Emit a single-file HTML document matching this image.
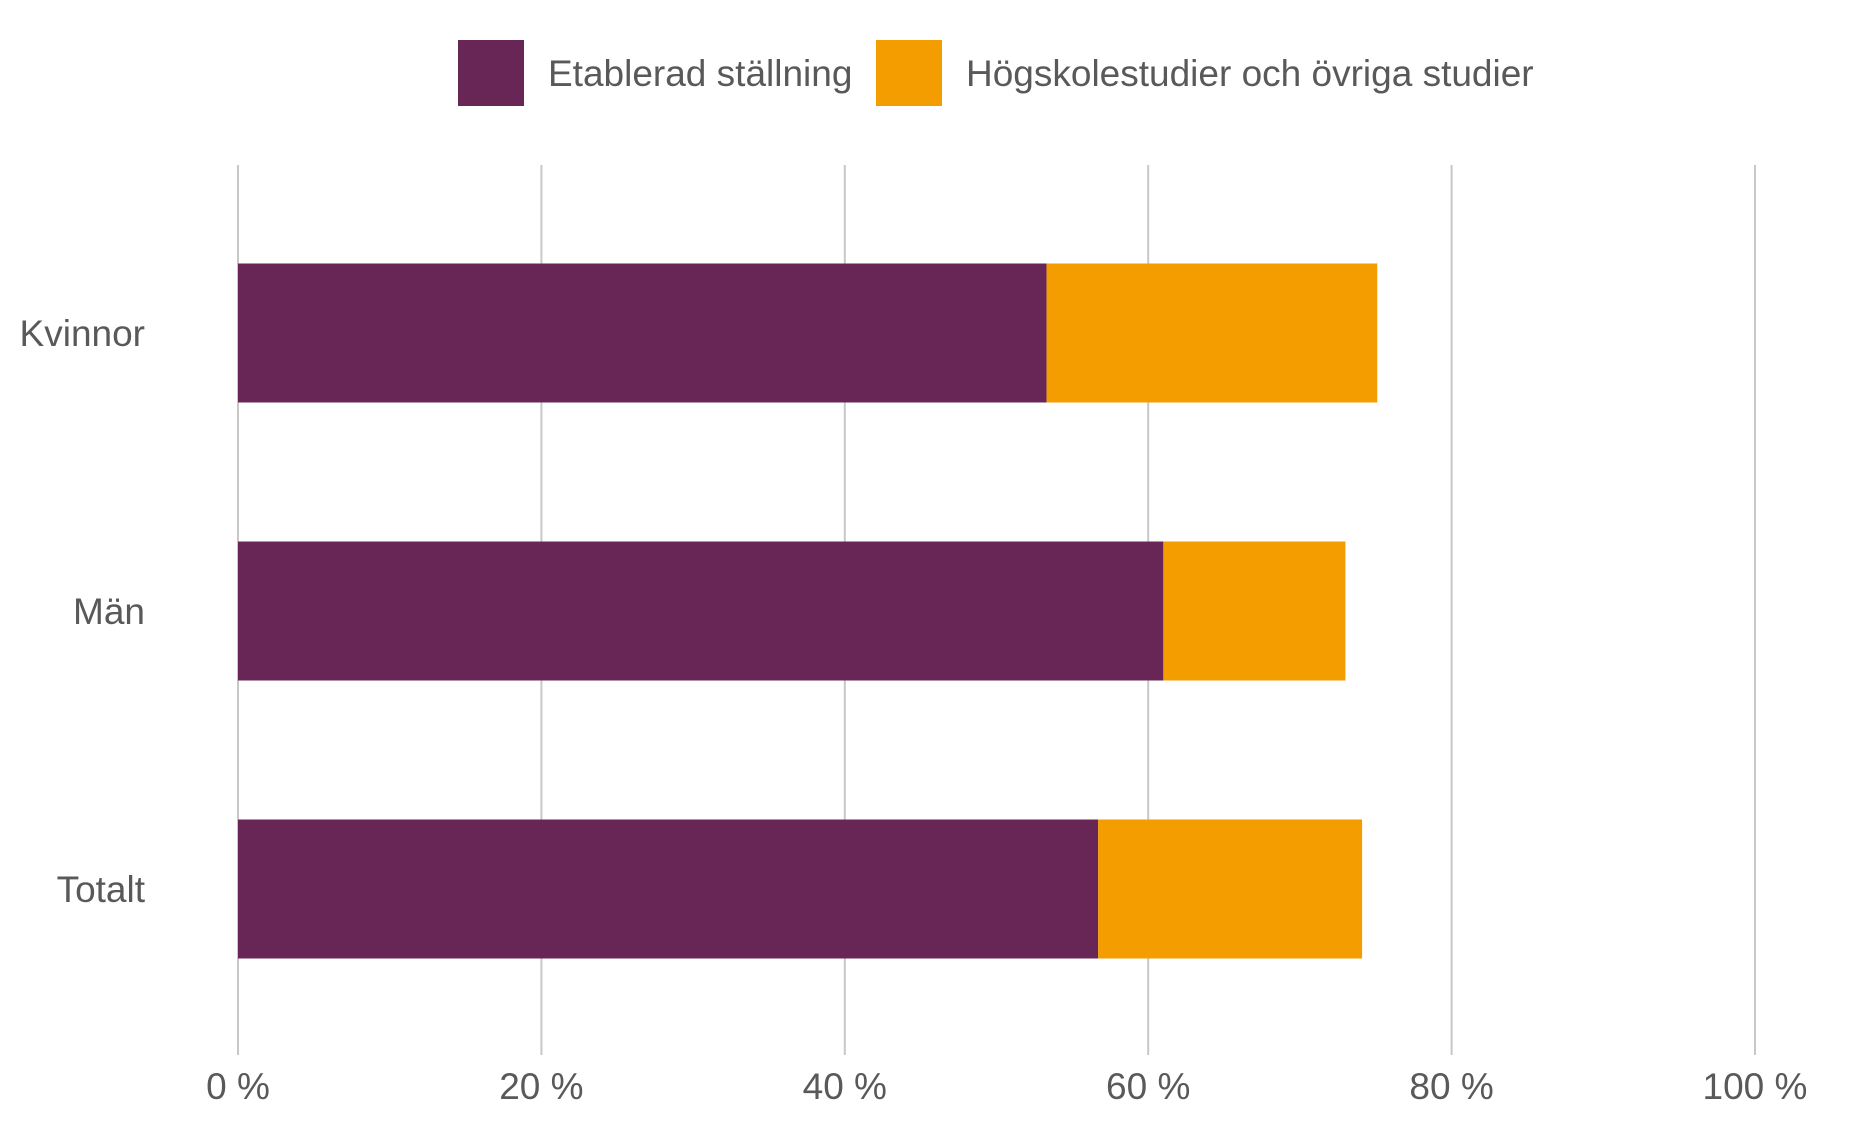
<!DOCTYPE html>
<html><head><meta charset="utf-8"><style>
body{margin:0;background:#fff;}
svg text{font-family:"Liberation Sans",Arial,sans-serif;fill:#595959;}
</style></head><body>
<svg id="chart" width="1850" height="1125" viewBox="0 0 1850 1125">
<g>
<rect x="458" y="40" width="66" height="66" fill="#682657"/>
<text x="548" y="86" font-size="37">Etablerad ställning</text>
<rect x="876" y="40" width="66" height="66" fill="#f49d00"/>
<text x="966" y="86" font-size="37">Högskolestudier och övriga studier</text>
</g>
<g id="grid"></g>
<g id="bars"></g>
<g id="ylab"></g>
<g id="xlab"></g>
</svg>
<script>
const categories=["Kvinnor","Män","Totalt"];
const etablerad=[53.3,61.0,56.7];
const studier=[21.8,12.0,17.4];
const ticks=[0,20,40,60,80,100];
const tickLabels=["0 %","20 %","40 %","60 %","80 %","100 %"];
(function(){
const NS="http://www.w3.org/2000/svg";
const x0=238,x1=1755,plotTop=165,plotBottom=1055;
const xs=v=>x0+(x1-x0)*v/100;
const firstCenter=333,step=278,barH=139;
const yc=i=>firstCenter+step*i;
function mk(t,a,p){const e=document.createElementNS(NS,t);for(const k in a)e.setAttribute(k,a[k]);p.appendChild(e);return e;}
const g=document.getElementById('grid'),b=document.getElementById('bars'),yl=document.getElementById('ylab'),xl=document.getElementById('xlab');
ticks.forEach((t,i)=>{
 const l=mk('line',{x1:xs(t),x2:xs(t),y1:plotTop,y2:plotBottom,stroke:'#c8c8c8','stroke-width':2},g);
 
 
 const tx=mk('text',{x:xs(t),y:1099,'font-size':37,'text-anchor':'middle'},xl);
 tx.textContent=tickLabels[i];
 
 
});
categories.forEach((c,i)=>{
 const y=yc(i)-barH/2;
 const r1=mk('rect',{x:xs(0),y:y,width:xs(etablerad[i])-xs(0),height:barH,fill:'#682657'},b);
 
 
 const r2=mk('rect',{x:xs(etablerad[i]),y:y,width:xs(etablerad[i]+studier[i])-xs(etablerad[i]),height:barH,fill:'#f49d00'},b);
 
 
 const t=mk('text',{x:145,y:yc(i)+13,'font-size':37,'text-anchor':'end'},yl);
 t.textContent=c;
 
 
});
})();
</script>
</body></html>
